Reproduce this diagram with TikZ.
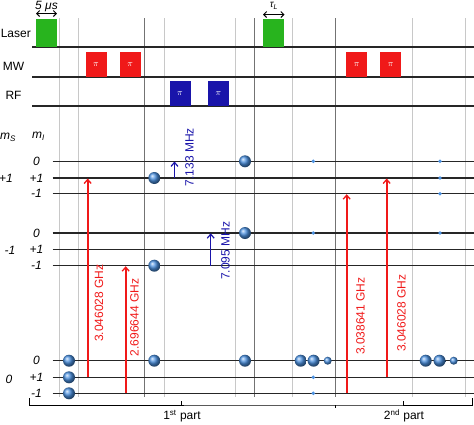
\documentclass[tikz,border=0pt]{standalone}
\usepackage{fontspec}
\setmainfont{Liberation Sans}
\usetikzlibrary{arrows.meta}
\definecolor{lgray}{RGB}{200,200,200}
\definecolor{dgray}{RGB}{115,115,115}
\definecolor{pgreen}{RGB}{40,180,30}
\definecolor{pred}{RGB}{240,25,25}
\definecolor{pblue}{RGB}{25,20,170}
\definecolor{ballc}{RGB}{75,145,225}
\begin{document}
\begin{tikzpicture}[x=1pt,y=-1pt,
  lvl/.style={line width=1.2pt,black!85},
  vlight/.style={line width=0.9pt,lgray},
  vdark/.style={line width=0.9pt,dgray},
  laserbox/.style={fill=pgreen,draw=none},
  mwbox/.style={fill=pred,draw=none,text=white,font=\fontsize{9}{10}\selectfont},
  rfbox/.style={fill=pblue,draw=none,text=white,font=\fontsize{9}{10}\selectfont},
  lab/.style={font=\fontsize{12}{14}\selectfont,inner sep=0pt},
  ilab/.style={font=\fontsize{12}{14}\selectfont\itshape,inner sep=0pt},
  redarr/.style={pred,line width=1.6pt,-{Straight Barb[length=4pt,width=7pt,line width=1.3pt]}},
  bluearr/.style={pblue,line width=1.4pt,-{Straight Barb[length=4pt,width=7pt,line width=1.2pt]}},
  redlab/.style={text=pred,rotate=90,anchor=west,inner sep=0pt,font=\fontsize{12}{14}\selectfont},
  bluelab/.style={text=pblue,rotate=90,anchor=west,inner sep=0pt,font=\fontsize{12}{14}\selectfont},
  bigball/.style={circle,shading=ball,ball color=ballc,minimum size=12pt,inner sep=0pt},
  midball/.style={circle,shading=ball,ball color=ballc,minimum size=8pt,inner sep=0pt},
  dot/.style={circle,fill=ballc,minimum size=3.8pt,inner sep=0pt},
  brace/.style={line width=0.9pt,black}
]
\useasboundingbox (0,0) rectangle (474,424);

% vertical time lines
\foreach \x in {59.3,78.3,164,235,292.3,412.7,465}
  \draw[vlight] (\x,18) -- (\x,397);
\foreach \x in {144.7,254.3,335.3}
  \draw[vdark] (\x,18) -- (\x,397);

% channel baselines
\foreach \y in {47,77,106}
  \draw[lvl] (32,\y) -- (474,\y);
% energy levels
\foreach \y in {161.3,178,193.7,233,249.7,265.7,360.7,377.3,393.3}
  \draw[lvl] (52.7,\y) -- (474,\y);

% laser pulses
\node[laserbox,minimum width=21pt,minimum height=28pt,inner sep=0pt] (L1) at (46.2,33) {};
\node[laserbox,minimum width=21pt,minimum height=28pt,inner sep=0pt] (L2) at (273.7,33) {};
% MW pulses
\foreach \n/\x in {M1/96,M2/130.2,M3/356.7,M4/390.7}
  \node[mwbox,minimum width=21pt,minimum height=25.5pt,inner sep=0pt] (\n) at (\x,64.3) {$\pi$};
% RF pulses
\foreach \n/\x in {R1/180,R2/218.4}
  \node[rfbox,minimum width=21pt,minimum height=25pt,inner sep=0pt] (\n) at (\x,93.5) {$\pi$};

% duration markers
\coordinate (d1a) at (36,13.5); \coordinate (d1b) at (57,13.5);
\draw[line width=1pt,{Straight Barb[length=3pt,width=6pt]}-{Straight Barb[length=3pt,width=6pt]}] (d1a) -- (d1b);
\node[ilab] (t5) at (46.5,6.5) {5 μs};
\coordinate (d2a) at (263,14.5); \coordinate (d2b) at (284.5,14.5);
\draw[line width=1pt,{Straight Barb[length=3pt,width=6pt]}-{Straight Barb[length=3pt,width=6pt]}] (d2a) -- (d2b);
\node[inner sep=0pt,font=\fontsize{10}{12}\selectfont\itshape] (tl) at (274,6) {τ\textsubscript{L}};

% channel labels
\node[lab,anchor=east] (lLaser) at (31,33) {Laser};
\node[lab,anchor=east] (lMW) at (24.5,66.5) {MW};
\node[lab] (lRF) at (13.5,95.5) {RF};
\node[ilab] (lms) at (8,137) {m\textsubscript{S}};
\node[ilab] (lmi) at (38.5,136) {m\textsubscript{I}};

% mS labels
\node[ilab] (s1) at (6,178) {+1};
\node[ilab] (s2) at (10,250.5) {-1};
\node[ilab] (s3) at (9,379) {0};
% mI labels
\foreach \y/\t in {161.3/0,178/+1,193.7/-1,233/0,249.7/+1,265.7/-1,360.7/0,377.3/+1,393.3/-1}
  \node[ilab] at (36.5,\y) {\t};

% populations (balls)
\node[bigball] (b1) at (69,360.7) {};
\node[bigball] (b2) at (69,377.3) {};
\node[bigball] (b3) at (69,393.3) {};
\node[bigball] (b4) at (154.3,178) {};
\node[bigball] (b5) at (154.3,265.7) {};
\node[bigball] (b6) at (154.3,360.7) {};
\node[bigball] (b7) at (245,161.3) {};
\node[bigball] (b8) at (245,233) {};
\node[bigball] (b9) at (245,360.7) {};
\node[dot] (d1) at (313.3,161.3) {};
\node[dot] (d2) at (313.3,233) {};
\node[bigball] (b10) at (300.7,360.7) {};
\node[bigball] (b11) at (313.6,360.7) {};
\node[midball] (b12) at (327.7,360.7) {};
\node[dot] (d3) at (313.3,377.3) {};
\node[dot] (d4) at (313.3,393.3) {};
\node[dot] (d5) at (440,161.3) {};
\node[dot] (d6) at (440,178) {};
\node[dot] (d7) at (440,193.7) {};
\node[dot] (d8) at (440,233) {};
\node[bigball] (b13) at (425.7,360.7) {};
\node[bigball] (b14) at (439.5,360.7) {};
\node[midball] (b15) at (453.7,360.7) {};

% MW transitions (red)
\coordinate (r1a) at (87.7,377.3); \coordinate (r1b) at (87.7,178.5);
\coordinate (r2a) at (125.7,393.3); \coordinate (r2b) at (125.7,266.2);
\coordinate (r3a) at (346.7,393.3); \coordinate (r3b) at (346.7,194.2);
\coordinate (r4a) at (386.7,377.3); \coordinate (r4b) at (386.7,178.5);
\draw[redarr] (r1a) -- (r1b);
\draw[redarr] (r2a) -- (r2b);
\draw[redarr] (r3a) -- (r3b);
\draw[redarr] (r4a) -- (r4b);
\node[redlab] (g1) at (99,342) {3.046028 GHz};
\node[redlab] (g2) at (134.5,356.5) {2.696644 GHz};
\node[redlab] (g3) at (360.5,355) {3.038641 GHz};
\node[redlab] (g4) at (401.5,352) {3.046028 GHz};

% RF transitions (blue)
\coordinate (u1a) at (174.5,177.5); \coordinate (u1b) at (174.5,161.5);
\coordinate (u2a) at (210.7,265.5); \coordinate (u2b) at (210.7,233.3);
\draw[bluearr] (u1a) -- (u1b);
\draw[bluearr] (u2a) -- (u2b);
\node[bluelab] (f1) at (189.5,186.5) {7.133 MHz};
\node[bluelab] (f2) at (225.5,280) {7.095 MHz};

% part brackets
\coordinate (p1) at (29.5,398); \coordinate (p2) at (335.3,405); \coordinate (p3) at (472,398);
\draw[brace] (p1) |- (p2) -- (p2 |- 0,405) -| (p3);
\draw[brace] (181.7,405) -- (181.7,400.5);
\draw[brace] (403.8,405) -- (403.8,400.5);
\draw[brace] (335.3,405) -- (335.3,408);
\node[lab] (part1) at (182,416) {1\textsuperscript{st} part};
\node[lab] (part2) at (404,416) {2\textsuperscript{nd} part};
\end{tikzpicture}
\end{document}
